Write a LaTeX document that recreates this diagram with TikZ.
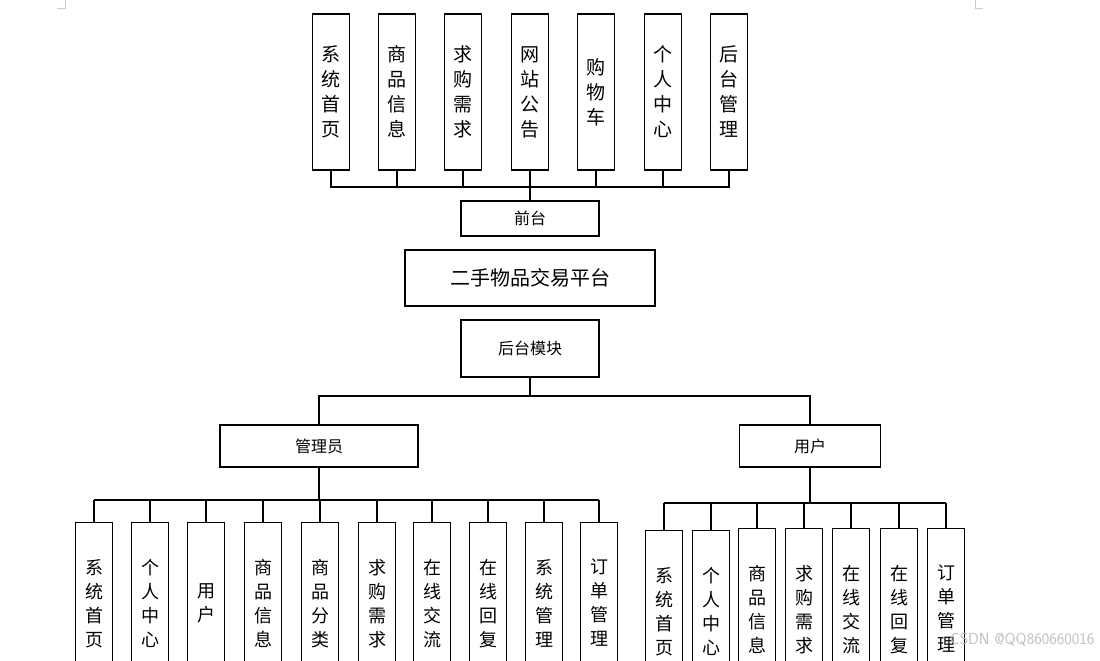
\documentclass[tikz,border=0pt]{standalone}
\usepackage{fontspec}
\setmainfont{Noto Sans CJK SC}
\begin{document}
\begin{tikzpicture}[x=1pt,y=-1pt,
  box/.style={draw,line width=1.2pt,fill=white,inner sep=0pt},
  ln/.style={line width=1.2pt},
  vt/.style={box,minimum width=37pt,minimum height=156pt,align=center,font=\fontsize{19}{25}\selectfont},
  vb/.style={box,minimum width=37pt,minimum height=160pt,anchor=north,align=center,font=\fontsize{18}{24}\selectfont,text depth=0pt},
  hb/.style={box,font=\fontsize{16}{18}\selectfont}]
\useasboundingbox (0,0) rectangle (1100,661);
\draw[gray!40] (65,0)--(65,8)--(57,8) (975,0)--(975,8)--(983,8);
% top
\foreach \x/\t [count=\i] in {331/系\\统\\首\\页,397/商\\品\\信\\息,463/求\\购\\需\\求,530/网\\站\\公\\告,596/购\\物\\车,663/个\\人\\中\\心,729/后\\台\\管\\理}
  \node[vt] (t\i) at (\x,92) {\t};
\node[hb,minimum width=138pt,minimum height=35pt] (front) at (530,218.5) {前台};
\node[box,minimum width=250pt,minimum height=56pt,font=\fontsize{20}{22}\selectfont] (main) at (530,278) {二手物品交易平台};
\node[hb,minimum width=138pt,minimum height=57pt] (back) at (530,348.5) {后台模块};
\coordinate (tb) at (530,187);
\foreach \i in {1,...,7} \draw[ln] (t\i.south) |- (tb);
\draw[ln] (t1.south|-tb) -- (t7.south|-tb);
\draw[ln] (tb) -- (front.north);
\node[hb,minimum width=198pt,minimum height=42pt] (adm) at (319,446) {管理员};
\node[hb,minimum width=141pt,minimum height=42pt] (usr) at (810,446) {用户};
\coordinate (mb) at (530,396);
\draw[ln] (back.south) -- (mb);
\draw[ln] (adm.north) |- (mb) -| (usr.north);
% admin children
\foreach \x/\t [count=\i] in {94/系\\统\\首\\页,150/个\\人\\中\\心,206/用\\户,263/商\\品\\信\\息,320/商\\品\\分\\类,377/求\\购\\需\\求,432/在\\线\\交\\流,488/在\\线\\回\\复,544/系\\统\\管\\理,599/订\\单\\管\\理}
  \node[vb] (a\i) at (\x,522) {\t};
\draw[ln] (adm.south) -- (319,500);
\draw[ln] (a1.north|-0,500) -- (a10.north|-0,500);
\foreach \i in {1,...,10} \draw[ln] (a\i.north) -- (a\i.north|-0,500);
% user children
\foreach \x/\y/\t [count=\i] in {664/530/系\\统\\首\\页,711/530/个\\人\\中\\心,757/528/商\\品\\信\\息,804/528/求\\购\\需\\求,851/528/在\\线\\交\\流,899/528/在\\线\\回\\复,946/528/订\\单\\管\\理}
  \node[vb] (u\i) at (\x,\y) {\t};
\draw[ln] (usr.south) -- (810,503);
\draw[ln] (u1.north|-0,503) -- (u7.north|-0,503);
\foreach \i in {1,...,7} \draw[ln] (u\i.north) -- (u\i.north|-0,503);
\node[anchor=east,text=gray!50,font=\fontsize{16}{18}\selectfont\sffamily] (wm) at (1098,640) {CSDN @QQ860660016};
\end{tikzpicture}
\end{document}
